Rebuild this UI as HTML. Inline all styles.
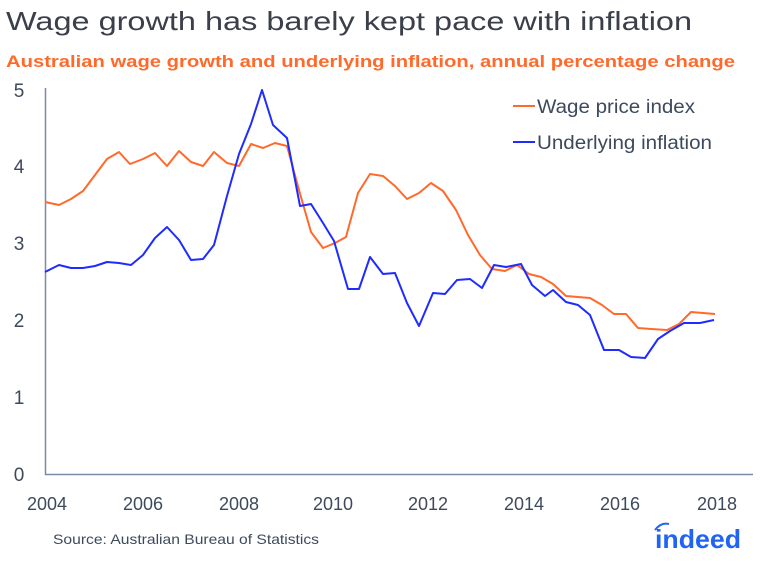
<!DOCTYPE html>
<html><head><meta charset="utf-8"><style>
body{margin:0;background:#fff;width:768px;height:558px;overflow:hidden;font-family:"Liberation Sans",sans-serif}
</style></head><body>
<svg width="768" height="558" xmlns="http://www.w3.org/2000/svg" font-family="Liberation Sans, sans-serif">
<text x="6" y="30" font-size="26" fill="#3a3f4a" textLength="686" lengthAdjust="spacingAndGlyphs">Wage growth has barely kept pace with inflation</text>
<text x="6" y="67" font-size="17" font-weight="bold" fill="#ff6a2b" textLength="729" lengthAdjust="spacingAndGlyphs">Australian wage growth and underlying inflation, annual percentage change</text>
<g font-size="19" fill="#3d4a5c" text-anchor="middle">
<text x="19" y="97">5</text><text x="19" y="173">4</text><text x="19" y="250">3</text><text x="19" y="327">2</text><text x="19" y="404">1</text><text x="19" y="481">0</text>
</g>
<g font-size="18" fill="#3d4a5c" text-anchor="middle">
<text x="47" y="510">2004</text><text x="143" y="510">2006</text><text x="239" y="510">2008</text><text x="333" y="510">2010</text><text x="428" y="510">2012</text><text x="524" y="510">2014</text><text x="620" y="510">2016</text><text x="717" y="510">2018</text>
</g>
<path d="M45.5 88V474.5H753" fill="none" stroke="#7d8aa3" stroke-width="1.5"/>
<polyline fill="none" stroke="#ff6a2b" stroke-width="2" stroke-linejoin="round" points="45,202 59,205 71,199 83,191 95,175 107,159 119,152 130,164 143,159 155,153 167,166 179,151 191,162 203,166 214,152 227,163 239,166 251,144 263,148 275,143 287,146 299,190 311,232 323,248 335,243 346,237 358,193 370,174 383,176 395,186 407,199 419,193 431,183 443,191 456,210 468,235 480,255 492,269 505,271 517,265 529,274 541,277 553,284 566,296 578,297 590,298 602,305 614,314 626,314 638,328 651,329 667,330 679,324 691,312 715,314"/>
<polyline fill="none" stroke="#1f2bff" stroke-width="2" stroke-linejoin="round" points="45,272 59,265 71,268 83,268 95,266 107,262 119,263 131,265 143,255 155,238 167,227 179,240 191,260 203,259 214,245 227,196 239,154 251,124 262,90 273,125 287,138 300,206 311,204 323,223 334,241 348,289 359,289 370,257 383,274 395,273 407,303 419,326 433,293 445,294 457,280 470,279 482,288 494,265 506,267 521,264 532,285 545,296 553,290 566,302 578,305 590,315 604,350 619,350 631,357 645,358 658,339 670,331 684,323 700,323 714,320"/>
<line x1="513" y1="106" x2="535" y2="106" stroke="#ff6a2b" stroke-width="2"/>
<line x1="513" y1="142" x2="535" y2="142" stroke="#1f2bff" stroke-width="2"/>
<text x="537" y="113" font-size="19" fill="#3d4a5c" textLength="158" lengthAdjust="spacingAndGlyphs">Wage price index</text>
<text x="537" y="149" font-size="19" fill="#3d4a5c" textLength="175" lengthAdjust="spacingAndGlyphs">Underlying inflation</text>
<text x="53" y="544" font-size="14" fill="#3d4a5c" textLength="266" lengthAdjust="spacingAndGlyphs">Source: Australian Bureau of Statistics</text>
<text x="655" y="548" font-size="26" font-weight="bold" fill="#2164f3" textLength="86" lengthAdjust="spacingAndGlyphs">indeed</text>
<path d="M655 530 q6 -8 14 -6" fill="none" stroke="#2164f3" stroke-width="2"/>
</svg>
</body></html>
